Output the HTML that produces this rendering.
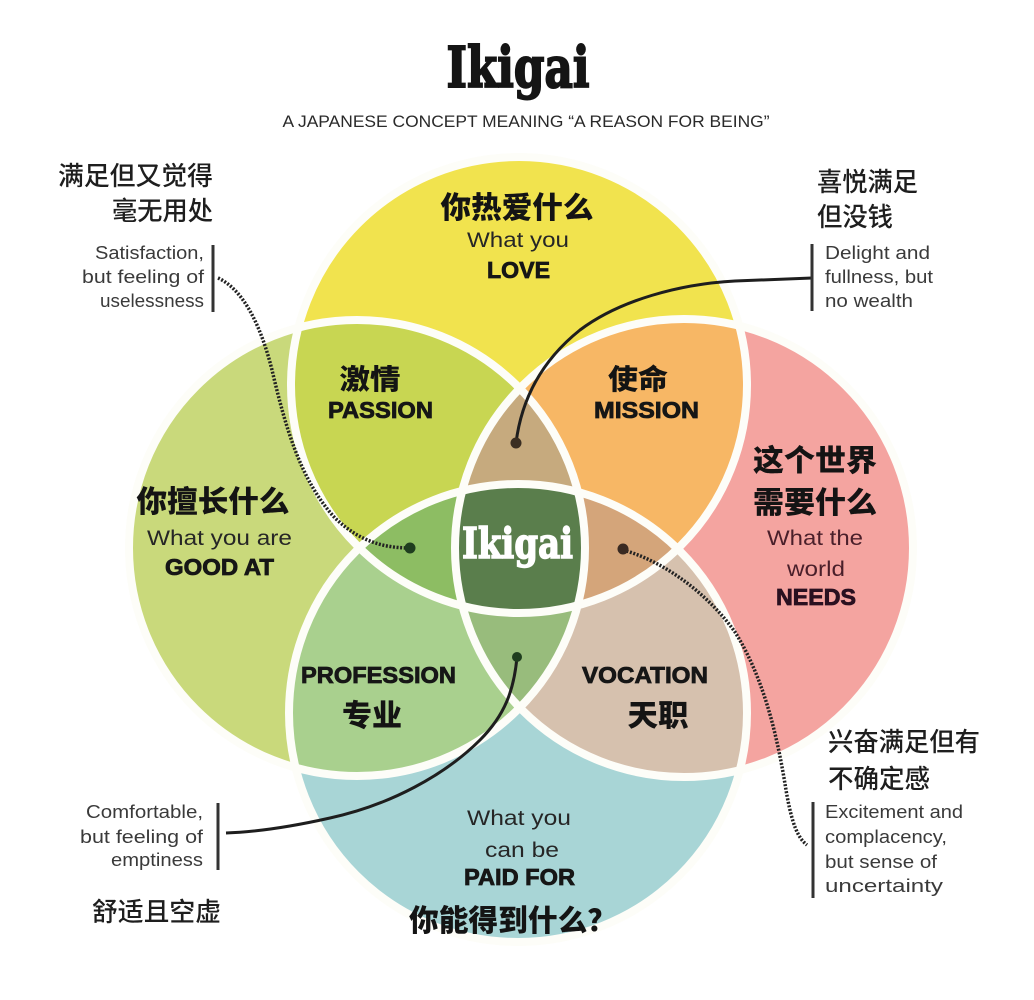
<!DOCTYPE html>
<html><head><meta charset="utf-8"><style>
html,body{margin:0;padding:0;background:#fff;}
svg{display:block;}
.cn{font-family:"Liberation Sans","Noto Sans CJK SC",sans-serif;}
</style></head><body>
<svg width="1034" height="1000" viewBox="0 0 1034 1000" xmlns="http://www.w3.org/2000/svg">
<defs>
<clipPath id="cT"><circle cx="519" cy="385" r="228"/></clipPath>
<clipPath id="cL"><circle cx="357" cy="548" r="228"/></clipPath>
<clipPath id="cR"><circle cx="684" cy="548" r="229"/></clipPath>
<clipPath id="cB"><circle cx="518" cy="713" r="229"/></clipPath>
</defs>
<rect width="1034" height="1000" fill="#ffffff"/>

<!-- singles -->
<circle cx="519" cy="385" r="228" fill="#f1e34e"/>
<circle cx="357" cy="548" r="228" fill="#c9d97b"/>
<circle cx="684" cy="548" r="229" fill="#f4a4a0"/>
<circle cx="518" cy="713" r="229" fill="#a8d5d6"/>

<!-- pairs -->
<g clip-path="url(#cT)"><circle cx="357" cy="548" r="228" fill="#c8d652"/></g>
<g clip-path="url(#cT)"><circle cx="684" cy="548" r="229" fill="#f7b765"/></g>
<g clip-path="url(#cB)"><circle cx="357" cy="548" r="228" fill="#a9d08e"/></g>
<g clip-path="url(#cB)"><circle cx="684" cy="548" r="229" fill="#d6c1ae"/></g>

<!-- triples -->
<g clip-path="url(#cT)"><g clip-path="url(#cL)"><circle cx="684" cy="548" r="229" fill="#c6aa7e"/></g></g>
<g clip-path="url(#cT)"><g clip-path="url(#cL)"><circle cx="518" cy="713" r="229" fill="#8dbd63"/></g></g>
<g clip-path="url(#cT)"><g clip-path="url(#cR)"><circle cx="518" cy="713" r="229" fill="#d4a57a"/></g></g>
<g clip-path="url(#cL)"><g clip-path="url(#cR)"><circle cx="518" cy="713" r="229" fill="#98bc7c"/></g></g>

<!-- quad -->
<g clip-path="url(#cT)"><g clip-path="url(#cL)"><g clip-path="url(#cR)"><circle cx="518" cy="713" r="229" fill="#5a7e4c"/></g></g></g>

<!-- white outlines -->
<g fill="none" stroke="#fdfdf8" stroke-width="8">
<circle cx="519" cy="385" r="228"/>
<circle cx="357" cy="548" r="228"/>
<circle cx="684" cy="548" r="229"/>
<circle cx="518" cy="713" r="229"/>
</g>

<!-- title -->
<text x="518" y="87" font-family="DejaVu Serif, Liberation Serif, serif" font-weight="bold" font-size="56" text-anchor="middle" textLength="143" lengthAdjust="spacingAndGlyphs" fill="#151515" stroke="#151515" stroke-width="2">Ikigai</text>
<text x="526" y="127" font-family="Liberation Sans, sans-serif" font-size="16.5" text-anchor="middle" textLength="487" lengthAdjust="spacingAndGlyphs" fill="#2a2a2a">A JAPANESE CONCEPT MEANING “A REASON FOR BEING”</text>

<!-- connector lines -->
<g fill="none" stroke="#222" stroke-width="3.5" stroke-dasharray="2 1.6">
<path d="M218,278 C245,290 262,330 272,370 C285,425 300,480 335,518 C360,542 385,548 410,548"/>
<path d="M623,550 C660,560 705,590 735,632 C765,680 778,740 786,790 C792,825 798,838 807,845"/>
</g>
<g fill="none" stroke="#1e1e1e" stroke-width="3">
<path d="M812,278 L735,281 C680,284 620,300 580,330 C545,358 522,395 516,443"/>
<path d="M517,657 C514,690 505,715 480,740 C445,775 390,805 330,818 C290,827 255,832 226,833"/>
</g>
<circle cx="516" cy="443" r="5.5" fill="#3a2e22"/>
<circle cx="410" cy="548" r="5.5" fill="#1f3d1f"/>
<circle cx="623" cy="549" r="5.5" fill="#3a2a22"/>
<circle cx="517" cy="657" r="5" fill="#1f3d1f"/>

<!-- brackets -->
<g stroke="#333" stroke-width="3">
<line x1="213" y1="245" x2="213" y2="312"/>
<line x1="812" y1="244" x2="812" y2="311"/>
<line x1="218" y1="803" x2="218" y2="870"/>
<line x1="813" y1="802" x2="813" y2="898"/>
</g>

<!-- annotations -->
<g class="cn" font-size="26" font-weight="500" fill="#1e1e1e">
<text x="213" y="185" text-anchor="end" textLength="155" lengthAdjust="spacingAndGlyphs">满足但又觉得</text>
<text x="213" y="220" text-anchor="end" textLength="101" lengthAdjust="spacingAndGlyphs">毫无用处</text>
<text x="817" y="191" textLength="101" lengthAdjust="spacingAndGlyphs">喜悦满足</text>
<text x="817" y="226" textLength="76" lengthAdjust="spacingAndGlyphs">但没钱</text>
<text x="92" y="921" textLength="129" lengthAdjust="spacingAndGlyphs">舒适且空虚</text>
<text x="828" y="751" textLength="152" lengthAdjust="spacingAndGlyphs">兴奋满足但有</text>
<text x="828" y="788" textLength="102" lengthAdjust="spacingAndGlyphs">不确定感</text>
</g>

<g font-family="Liberation Sans, sans-serif" font-size="18" fill="#3a3a3a">
<text x="204" y="259" text-anchor="end" textLength="109" lengthAdjust="spacingAndGlyphs">Satisfaction,</text>
<text x="204" y="283" text-anchor="end" textLength="122" lengthAdjust="spacingAndGlyphs">but feeling of</text>
<text x="204" y="307" text-anchor="end" textLength="104" lengthAdjust="spacingAndGlyphs">uselessness</text>

<text x="825" y="259" textLength="105" lengthAdjust="spacingAndGlyphs">Delight and</text>
<text x="825" y="283" textLength="108" lengthAdjust="spacingAndGlyphs">fullness, but</text>
<text x="825" y="307" textLength="88" lengthAdjust="spacingAndGlyphs">no wealth</text>

<text x="203" y="818" text-anchor="end" textLength="117" lengthAdjust="spacingAndGlyphs">Comfortable,</text>
<text x="203" y="843" text-anchor="end" textLength="123" lengthAdjust="spacingAndGlyphs">but feeling of</text>
<text x="203" y="866" text-anchor="end" textLength="92" lengthAdjust="spacingAndGlyphs">emptiness</text>

<text x="825" y="818" textLength="138" lengthAdjust="spacingAndGlyphs">Excitement and</text>
<text x="825" y="843" textLength="122" lengthAdjust="spacingAndGlyphs">complacency,</text>
<text x="825" y="868" textLength="112" lengthAdjust="spacingAndGlyphs">but sense of</text>
<text x="825" y="892" textLength="118" lengthAdjust="spacingAndGlyphs">uncertainty</text>
</g>

<!-- circle labels: Chinese bold -->
<g class="cn" font-weight="900" font-size="30" fill="#141414" text-anchor="middle">
<text x="517" y="218" textLength="153" lengthAdjust="spacingAndGlyphs">你热爱什么</text>
<text x="370" y="389" font-size="28" textLength="61" lengthAdjust="spacingAndGlyphs">激情</text>
<text x="638" y="389" font-size="28" textLength="60" lengthAdjust="spacingAndGlyphs">使命</text>
<text x="213" y="512" textLength="153" lengthAdjust="spacingAndGlyphs">你擅长什么</text>
<text x="815" y="471" textLength="124" lengthAdjust="spacingAndGlyphs">这个世界</text>
<text x="815" y="513" textLength="124" lengthAdjust="spacingAndGlyphs">需要什么</text>
<text x="372" y="726" textLength="60" lengthAdjust="spacingAndGlyphs">专业</text>
<text x="658" y="726" textLength="61" lengthAdjust="spacingAndGlyphs">天职</text>
<text x="513" y="931" textLength="208" lengthAdjust="spacingAndGlyphs">你能得到什么？</text>
</g>

<!-- English light -->
<g font-family="Liberation Sans, sans-serif" font-size="21" fill="#262626" text-anchor="middle">
<text x="518" y="247" textLength="102" lengthAdjust="spacingAndGlyphs">What you</text>
<text x="219.5" y="545" textLength="145" lengthAdjust="spacingAndGlyphs">What you are</text>
<text x="815" y="545" textLength="96" lengthAdjust="spacingAndGlyphs" fill="#4a1f2a">What the</text>
<text x="816" y="576" textLength="58" lengthAdjust="spacingAndGlyphs" fill="#4a1f2a">world</text>
<text x="519" y="825" textLength="104" lengthAdjust="spacingAndGlyphs">What you</text>
<text x="522" y="857" textLength="74" lengthAdjust="spacingAndGlyphs">can be</text>
</g>

<!-- English bold -->
<g font-family="Liberation Sans, sans-serif" font-weight="bold" font-size="23" fill="#161616" stroke="#161616" stroke-width="0.8" text-anchor="middle">
<text x="518.5" y="278" textLength="63" lengthAdjust="spacingAndGlyphs">LOVE</text>
<text x="380.5" y="418" textLength="105" lengthAdjust="spacingAndGlyphs">PASSION</text>
<text x="646.5" y="418" textLength="105" lengthAdjust="spacingAndGlyphs">MISSION</text>
<text x="219.5" y="575" textLength="109" lengthAdjust="spacingAndGlyphs">GOOD AT</text>
<text x="816" y="605" textLength="80" lengthAdjust="spacingAndGlyphs" fill="#2a1020" stroke="#2a1020">NEEDS</text>
<text x="378.5" y="683" textLength="155" lengthAdjust="spacingAndGlyphs">PROFESSION</text>
<text x="645" y="683" textLength="126" lengthAdjust="spacingAndGlyphs">VOCATION</text>
<text x="519.5" y="885" textLength="111" lengthAdjust="spacingAndGlyphs">PAID FOR</text>
</g>

<!-- center -->
<text x="517.5" y="558" font-family="DejaVu Serif, Liberation Serif, serif" font-weight="bold" font-size="42" text-anchor="middle" textLength="111" lengthAdjust="spacingAndGlyphs" fill="#ffffff" stroke="#ffffff" stroke-width="1.5">Ikigai</text>
</svg>
</body></html>
